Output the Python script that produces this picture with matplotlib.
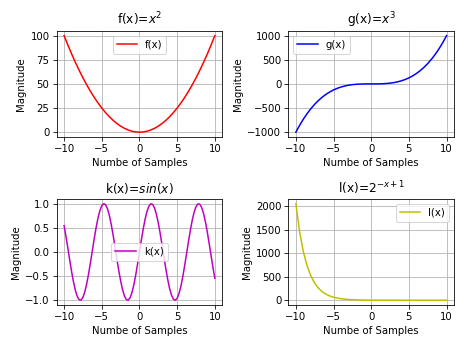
import numpy as np
import matplotlib
matplotlib.use("Agg")
import matplotlib.pyplot as plt

# sample positions
x_half = np.linspace(-10, 10, 41)      # step 0.5
x_quarter = np.linspace(-10, 10, 81)   # step 0.25

# f(x) = x^2
f_vals = [100, 90.25, 81, 72.25, 64, 56.25, 49, 42.25, 36, 30.25, 25,
          20.25, 16, 12.25, 9, 6.25, 4, 2.25, 1, 0.25, 0,
          0.25, 1, 2.25, 4, 6.25, 9, 12.25, 16, 20.25, 25,
          30.25, 36, 42.25, 49, 56.25, 64, 72.25, 81, 90.25, 100]

# g(x) = x^3
g_vals = [-1000, -857.4, -729, -614.1, -512, -421.9, -343, -274.6, -216, -166.4, -125,
          -91.1, -64, -42.9, -27, -15.6, -8, -3.4, -1, -0.1, 0,
          0.1, 1, 3.4, 8, 15.6, 27, 42.9, 64, 91.1, 125,
          166.4, 216, 274.6, 343, 421.9, 512, 614.1, 729, 857.4, 1000]

# k(x) = sin(x)
k_vals = [0.544, 0.319, 0.075, -0.174, -0.412, -0.625, -0.798, -0.922, -0.989, -0.995,
          -0.938, -0.823, -0.657, -0.450, -0.215, 0.033, 0.279, 0.508, 0.706, 0.859,
          0.959, 0.999, 0.978, 0.895, 0.757, 0.572, 0.351, 0.108, -0.141, -0.382,
          -0.598, -0.778, -0.909, -0.984, -0.997, -0.949, -0.841, -0.682, -0.479, -0.247,
          0.0,
          0.247, 0.479, 0.682, 0.841, 0.949, 0.997, 0.984, 0.909, 0.778, 0.598,
          0.382, 0.141, -0.108, -0.351, -0.572, -0.757, -0.895, -0.978, -0.999, -0.959,
          -0.859, -0.706, -0.508, -0.279, -0.033, 0.215, 0.450, 0.657, 0.823, 0.938,
          0.995, 0.989, 0.922, 0.798, 0.625, 0.412, 0.174, -0.075, -0.319, -0.544]

# l(x) = 2^(-x+1)
l_vals = [2048, 1448.2, 1024, 724.1, 512, 362.0, 256, 181.0, 128, 90.5, 64,
          45.3, 32, 22.6, 16, 11.3, 8, 5.66, 4, 2.83, 2,
          1.41, 1, 0.71, 0.5, 0.35, 0.25, 0.18, 0.125, 0.09, 0.06,
          0.04, 0.03, 0.02, 0.02, 0.01, 0.01, 0.0, 0.0, 0.0, 0.0]

fig, axs = plt.subplots(2, 2, figsize=(465 / 72.5, 347 / 72.5), dpi=72.5)

panels = [
    (axs[0, 0], x_half, f_vals, "r", "f(x)", "f(x)=$x^2$", "upper center"),
    (axs[0, 1], x_half, g_vals, "b", "g(x)", "g(x)=$x^3$", "upper left"),
    (axs[1, 0], x_quarter, k_vals, "m", "k(x)", "k(x)=$sin(x)$", "center"),
    (axs[1, 1], x_half, l_vals, "y", "l(x)", "l(x)=$2^{-x+1}$", "upper right"),
]

for ax, xs, ys, c, lab, title, loc in panels:
    ax.plot(xs, ys, color=c, label=lab)
    ax.set_title(title)
    ax.set_xlabel("Numbe of Samples")
    ax.set_ylabel("Magnitude")
    ax.grid(True)
    ax.legend(loc=loc)

plt.tight_layout()
plt.savefig("out.png", dpi=72.5)
